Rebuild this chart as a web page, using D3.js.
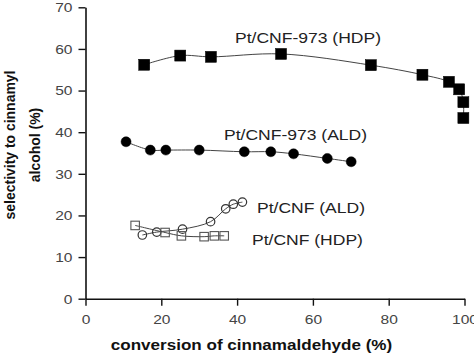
<!DOCTYPE html>
<html>
<head>
<meta charset="utf-8">
<script src="https://cdn.jsdelivr.net/npm/d3@7"></script>
<style>
  html, body { margin: 0; padding: 0; background: #fff; }
  svg { display: block; font-family: "Liberation Sans", Arial, sans-serif; }
</style>
</head>
<body>
<svg id="chart" width="474" height="355"></svg>
<script>
// ---- data ----
const hdp973X = [15.5, 25.0, 33.1, 51.6, 75.3, 88.9, 95.9, 98.6, 99.7, 99.7];
const hdp973Y = [56.2, 58.4, 58.1, 58.8, 56.1, 53.8, 52.1, 50.3, 47.2, 43.4];
const ald973X = [10.7, 17.1, 21.2, 30.0, 41.9, 48.9, 54.9, 63.8, 70.1];
const ald973Y = [37.7, 35.7, 35.7, 35.7, 35.3, 35.3, 34.8, 33.7, 32.9];
const aldX = [15.0, 18.8, 25.6, 33.0, 37.0, 39.0, 41.4];
const aldY = [15.3, 16.0, 16.7, 18.5, 21.6, 22.7, 23.2];
const hdpX = [13.1, 21.0, 25.3, 31.3, 34.0, 36.6];
const hdpY = [17.6, 15.9, 15.1, 14.9, 15.1, 15.1];
const xTicks = [0, 20, 40, 60, 80, 100];
const yTicks = [0, 10, 20, 30, 40, 50, 60, 70];
const seriesLabels = ["Pt/CNF-973 (HDP)", "Pt/CNF-973 (ALD)", "Pt/CNF (ALD)", "Pt/CNF (HDP)"];
const xTitle = "conversion of cinnamaldehyde (%)";
const yTitleLines = ["selectivity to cinnamyl", "alcohol (%)"];

// ---- layout ----
const svg = d3.select("#chart");
const mLeft = 85.5, mRight = 464.5, mTop = 7.3, mBottom = 298.7;
const x = d3.scaleLinear().domain([0, 100]).range([mLeft, mRight]);
const y = d3.scaleLinear().domain([0, 70]).range([mBottom, mTop]);
const HSTRETCH = 1.13; // source image is slightly stretched horizontally

function stretch(sel, f) {
  sel.each(function () {
    const l = this.getComputedTextLength();
    d3.select(this).attr("textLength", l * f).attr("lengthAdjust", "spacingAndGlyphs");
  });
}

const zip = (xs, ys) => xs.map((v, i) => [v, ys[i]]);
const series = [
  { pts: zip(hdp973X, hdp973Y), shape: "square", fill: "#000", size: 11 },
  { pts: zip(ald973X, ald973Y), shape: "circle", fill: "#000", size: 10 },
  { pts: zip(aldX, aldY), shape: "circle", fill: "none", size: 8.5 },
  { pts: zip(hdpX, hdpY), shape: "square", fill: "none", size: 8.5 }
];

// axes
const xAxis = svg.append("g").attr("transform", `translate(0,${mBottom})`)
  .call(d3.axisBottom(x).tickValues(xTicks).tickSize(7).tickSizeOuter(0).tickPadding(9));
const yAxis = svg.append("g").attr("transform", `translate(${mLeft},0)`)
  .call(d3.axisLeft(y).tickValues(yTicks).tickSize(7).tickSizeOuter(0).tickPadding(6));
[xAxis, yAxis].forEach(g => {
  g.select(".domain").attr("stroke", "#111").attr("stroke-width", 1.6);
  g.selectAll(".tick line").attr("stroke", "#111").attr("stroke-width", 1.4);
  g.selectAll(".tick text").attr("fill", "#444").attr("font-size", 13.5)
    .attr("font-family", "'Liberation Sans', Arial, sans-serif");
});
stretch(xAxis.selectAll(".tick text"), 1.15);
stretch(yAxis.selectAll(".tick text"), 1.15);

// lines
const line = d3.line().x(d => x(d[0])).y(d => y(d[1])).curve(d3.curveCatmullRom.alpha(0.5));
series.forEach(s => {
  svg.append("path").datum(s.pts).attr("d", line)
    .attr("fill", "none").attr("stroke", "#444").attr("stroke-width", 1);
});

// markers
series.forEach(s => {
  const g = svg.append("g");
  if (s.shape === "square") {
    g.selectAll("rect").data(s.pts).join("rect")
      .attr("x", d => x(d[0]) - s.size / 2).attr("y", d => y(d[1]) - s.size / 2)
      .attr("width", s.size).attr("height", s.size)
      .attr("fill", s.fill === "none" ? "none" : s.fill)
      .attr("stroke", s.fill === "none" ? "#555" : "#000").attr("stroke-width", s.fill === "none" ? 1.1 : 0.5);
  } else {
    g.selectAll("circle").data(s.pts).join("circle")
      .attr("cx", d => x(d[0])).attr("cy", d => y(d[1])).attr("r", s.size / 2)
      .attr("fill", s.fill === "none" ? "none" : s.fill)
      .attr("stroke", s.fill === "none" ? "#333" : "#000").attr("stroke-width", s.fill === "none" ? 1.2 : 0.5);
  }
});

// series labels
const labelPos = [[235, 43], [224, 140], [257, 212.5], [252, 245]];
const lbls = svg.append("g").selectAll("text").data(seriesLabels).join("text")
  .attr("x", (d, i) => labelPos[i][0]).attr("y", (d, i) => labelPos[i][1])
  .attr("font-size", 15.5).attr("fill", "#222").text(d => d);
stretch(lbls, HSTRETCH);

// axis titles
const xt = svg.append("text").attr("x", 251.5).attr("y", 350)
  .attr("text-anchor", "middle").attr("font-size", 15.5).attr("font-weight", "bold")
  .attr("fill", "#111").text(xTitle);
stretch(xt, 1.1);

const yt = svg.append("text").attr("transform", "translate(0,145) rotate(-90)")
  .attr("text-anchor", "middle").attr("font-size", 15.5).attr("font-weight", "bold").attr("fill", "#111");
yt.append("tspan").attr("x", 0).attr("y", 15).text(yTitleLines[0]);
yt.append("tspan").attr("x", 0).attr("y", 40).text(yTitleLines[1]);
stretch(yt.selectAll("tspan"), 0.9);
</script>
</body>
</html>
